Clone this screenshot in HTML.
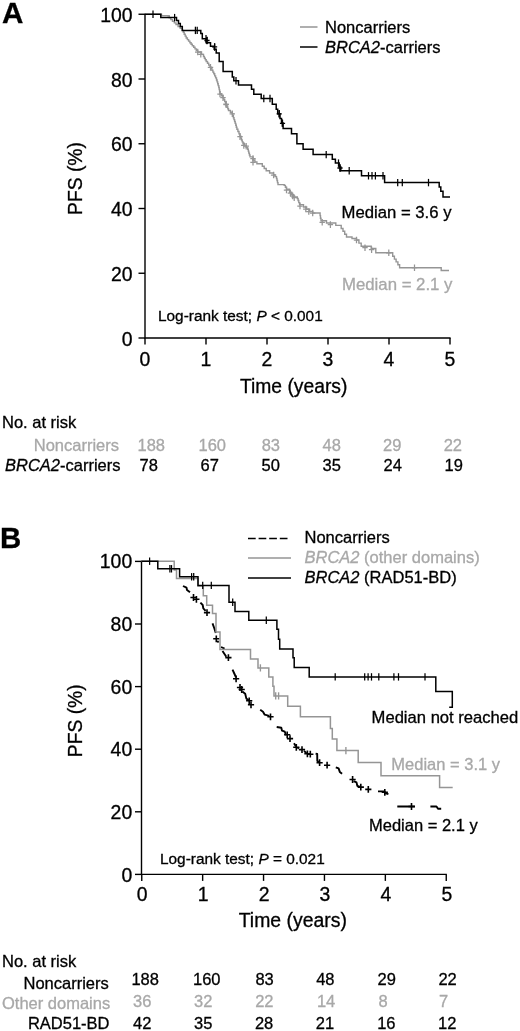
<!DOCTYPE html>
<html lang="en">
<head>
<meta charset="utf-8">
<title>PFS by BRCA2 carrier status</title>
<style>html,body{margin:0;padding:0;background:#fff}svg{display:block}text{stroke-width:.3px}.t,.t text{font-family:"Liberation Sans",sans-serif}</style>
</head>
<body>
<svg width="520" height="1031" viewBox="0 0 520 1031">
<rect width="520" height="1031" fill="#fff"/>
<g id="panelA">
<text x="1.9" y="22.8" class="t" font-size="29.6" font-weight="700" fill="#000" stroke="#000">A</text>
<g stroke="#000" stroke-width="1.4" fill="none" stroke-linecap="butt"><path d="M145.00 13.65 V338.00 H450.60"/><path d="M138.50 338.00 H145.00"/><path d="M138.50 273.25 H145.00"/><path d="M138.50 208.50 H145.00"/><path d="M138.50 143.75 H145.00"/><path d="M138.50 79.00 H145.00"/><path d="M138.50 14.25 H145.00"/><path d="M145.00 338.00 V344.50"/><path d="M206.00 338.00 V344.50"/><path d="M267.00 338.00 V344.50"/><path d="M328.00 338.00 V344.50"/><path d="M389.00 338.00 V344.50"/><path d="M450.00 338.00 V344.50"/></g>
<g class="t" font-size="19.4" fill="#000" stroke="#000" text-anchor="end"><text x="132.6" y="345.6">0</text><text x="132.6" y="280.9">20</text><text x="132.6" y="216.1">40</text><text x="132.6" y="151.3">60</text><text x="132.6" y="86.6">80</text><text x="132.6" y="21.9">100</text></g>
<g class="t" font-size="19.4" fill="#000" stroke="#000" text-anchor="middle"><text x="145.0" y="365.8">0</text><text x="206.0" y="365.8">1</text><text x="267.0" y="365.8">2</text><text x="328.0" y="365.8">3</text><text x="389.0" y="365.8">4</text><text x="450.0" y="365.8">5</text></g>
<path d="M145.0 14.2 L160.8 14.2 L161.5 14.2 L161.5 15.6 L167.7 15.6 L167.7 15.8 L169.2 15.8 L169.2 17.7 L170.8 17.7 L170.8 19.6 L172.5 19.6 L172.5 21.2 L174.3 21.2 L174.3 22.9 L176.0 22.9 L176.0 24.5 L178.1 24.5 L178.1 26.5 L180.2 26.5 L180.2 28.4 L182.3 28.4 L182.3 30.4 L183.3 30.4 L183.3 32.3 L184.2 32.3 L184.2 34.2 L185.2 34.2 L185.2 36.1 L186.2 36.1 L186.2 38.0 L187.4 38.0 L187.4 39.6 L188.6 39.6 L188.6 41.1 L189.9 41.1 L189.9 42.7 L191.1 42.7 L191.1 44.2 L192.3 44.2 L192.3 45.8 L193.7 45.8 L193.7 47.3 L195.0 47.3 L195.0 48.9 L196.3 48.9 L196.3 50.5 L197.7 50.5 L197.7 52.0 L201.5 52.0 L201.5 54.4 L203.5 54.4 L203.5 56.5 L204.4 56.5 L204.4 58.2 L205.3 58.2 L205.3 59.8 L206.2 59.8 L206.2 61.5 L207.5 61.5 L207.5 63.3 L208.7 63.3 L208.7 65.1 L210.0 65.1 L210.0 66.9 L210.9 66.9 L210.9 68.6 L211.9 68.6 L211.9 70.3 L212.9 70.3 L212.9 72.1 L213.8 72.1 L213.8 73.8 L214.7 73.8 L214.7 75.9 L215.6 75.9 L215.6 77.9 L216.5 77.9 L216.5 80.0 L217.1 80.0 L217.1 81.9 L217.7 81.9 L217.7 83.8 L218.2 83.8 L218.2 85.6 L218.8 85.6 L218.8 87.5 L219.2 87.5 L219.2 89.6 L219.6 89.6 L219.6 91.7 L220.0 91.7 L220.0 93.8 L221.5 93.8 L221.5 95.8 L223.0 95.8 L223.0 97.7 L223.9 97.7 L223.9 99.6 L224.7 99.6 L224.7 101.6 L225.6 101.6 L225.6 103.5 L226.3 103.5 L226.3 105.2 L227.1 105.2 L227.1 107.0 L227.8 107.0 L227.8 108.8 L228.5 108.8 L228.5 110.5 L230.4 110.5 L230.4 112.2 L232.3 112.2 L232.3 113.8 L232.9 113.8 L232.9 115.7 L233.4 115.7 L233.4 117.7 L234.0 117.7 L234.0 119.6 L234.6 119.6 L234.6 121.5 L235.2 121.5 L235.2 123.4 L235.8 123.4 L235.8 125.3 L236.3 125.3 L236.3 127.3 L236.9 127.3 L236.9 129.2 L237.9 129.2 L237.9 131.5 L239.0 131.5 L239.0 133.9 L240.0 133.9 L240.0 136.2 L240.8 136.2 L240.8 138.1 L241.5 138.1 L241.5 140.0 L242.2 140.0 L242.2 141.9 L243.0 141.9 L243.0 143.8 L244.6 143.8 L244.6 145.6 L246.1 145.6 L246.1 147.4 L247.7 147.4 L247.7 149.2 L248.3 149.2 L248.3 151.1 L248.8 151.1 L248.8 153.1 L249.4 153.1 L249.4 155.0 L250.0 155.0 L250.0 156.9 L253.0 156.9 L253.0 160.0 L254.9 160.0 L254.9 161.9 L256.9 161.9 L256.9 163.8 L262.3 163.8 L262.3 166.2 L264.2 166.2 L264.2 168.5 L266.2 168.5 L266.2 170.8 L269.6 170.8 L269.6 173.0 L273.5 173.0 L273.5 174.6 L275.0 174.6 L275.0 176.6 L276.5 176.6 L276.5 178.5 L277.0 178.5 L277.0 180.5 L277.5 180.5 L277.5 182.6 L278.0 182.6 L278.0 184.6 L284.2 184.6 L284.2 185.4 L285.4 185.4 L285.4 187.3 L286.5 187.3 L286.5 189.2 L289.6 189.2 L289.6 192.3 L291.6 192.3 L291.6 194.7 L293.5 194.7 L293.5 197.0 L297.3 197.0 L297.3 198.5 L298.1 198.5 L298.1 200.5 L298.8 200.5 L298.8 202.6 L299.6 202.6 L299.6 204.6 L303.5 204.6 L303.5 207.0 L306.6 207.0 L306.6 209.2 L309.6 209.2 L309.6 211.5 L312.7 211.5 L312.7 213.0 L319.6 213.0 L320.1 213.0 L320.1 215.6 L320.5 215.6 L320.5 218.2 L321.0 218.2 L321.0 220.8 L326.5 220.8 L326.5 223.0 L335.8 223.0 L335.8 225.4 L341.2 225.4 L341.2 228.5 L343.0 228.5 L343.0 231.3 L344.7 231.3 L344.7 234.2 L346.5 234.2 L346.5 237.0 L352.0 237.0 L352.0 238.5 L356.5 238.5 L356.5 240.0 L358.9 240.0 L358.9 243.1 L361.2 243.1 L361.2 246.2 L371.2 246.2 L371.2 248.5 L375.8 248.5 L375.8 252.8 L388.8 252.8 L392.7 252.8 L392.7 256.2 L394.4 256.2 L394.4 259.1 L396.1 259.1 L396.1 261.9 L397.9 261.9 L397.9 264.8 L399.6 264.8 L399.6 267.7 L441.2 267.7 L441.2 270.5 L449.0 270.5" fill="none" stroke="#959595" stroke-width="1.4" stroke-linejoin="miter"/>
<g stroke="#959595" stroke-width="1.25" fill="none"><path d="M197.7 48.7 V55.3 M195.0 52.0 H200.4"/><path d="M200.8 51.0 V57.6 M198.1 54.3 H203.5"/><path d="M210.5 64.1 V70.7 M207.8 67.4 H213.2"/><path d="M220.0 90.7 V97.3 M217.3 94.0 H222.7"/><path d="M223.0 94.4 V101.0 M220.3 97.7 H225.7"/><path d="M226.0 100.7 V107.3 M223.3 104.0 H228.7"/><path d="M232.3 110.5 V117.1 M229.6 113.8 H235.0"/><path d="M226.2 101.3 V107.9 M223.5 104.6 H228.9"/><path d="M240.0 133.3 V139.9 M237.3 136.6 H242.7"/><path d="M243.8 142.1 V148.7 M241.1 145.4 H246.5"/><path d="M246.2 142.9 V149.5 M243.5 146.2 H248.9"/><path d="M253.0 155.2 V161.8 M250.3 158.5 H255.7"/><path d="M253.0 159.0 V165.6 M250.3 162.3 H255.7"/><path d="M273.6 171.7 V178.3 M270.9 175.0 H276.3"/><path d="M286.5 186.7 V193.3 M283.8 190.0 H289.2"/><path d="M290.4 189.7 V196.3 M287.7 193.0 H293.1"/><path d="M292.7 192.7 V199.3 M290.0 196.0 H295.4"/><path d="M294.2 194.4 V201.0 M291.5 197.7 H296.9"/><path d="M300.0 202.7 V209.3 M297.3 206.0 H302.7"/><path d="M305.8 205.7 V212.3 M303.1 209.0 H308.5"/><path d="M308.8 208.2 V214.8 M306.1 211.5 H311.5"/><path d="M312.7 209.7 V216.3 M310.0 213.0 H315.4"/><path d="M322.2 219.0 V225.6 M319.5 222.3 H324.9"/><path d="M330.4 221.3 V227.9 M327.7 224.6 H333.1"/><path d="M356.5 236.7 V243.3 M353.8 240.0 H359.2"/><path d="M365.0 244.4 V251.0 M362.3 247.7 H367.7"/><path d="M371.6 246.4 V253.0 M368.9 249.7 H374.3"/><path d="M388.8 249.5 V256.1 M386.1 252.8 H391.5"/><path d="M414.5 264.4 V271.0 M411.8 267.7 H417.2"/></g>
<path d="M145.0 14.2 L160.8 14.2 L160.8 17.6 L176.5 17.6 L176.5 20.4 L178.5 20.4 L178.5 23.5 L180.3 23.5 L180.3 26.5 L182.3 26.5 L182.3 30.4 L200.8 30.4 L200.8 33.5 L202.3 33.5 L202.3 38.8 L206.2 38.8 L206.2 42.7 L210.5 42.7 L210.5 46.2 L214.2 46.2 L214.2 49.2 L216.2 49.2 L216.2 53.1 L219.2 53.1 L219.2 61.5 L223.1 61.5 L223.1 71.5 L232.3 71.5 L232.3 76.9 L233.8 76.9 L233.8 80.8 L238.5 80.8 L238.5 84.9 L251.5 84.9 L251.5 89.2 L253.8 89.2 L253.8 94.2 L261.2 94.2 L261.2 98.5 L272.3 98.5 L272.3 104.2 L276.2 104.2 L276.2 109.2 L277.7 109.2 L277.7 113.8 L280.0 113.8 L280.0 118.5 L281.5 118.5 L281.5 123.1 L283.1 123.1 L283.1 128.5 L291.5 128.5 L291.5 133.8 L296.9 133.8 L296.9 143.8 L303.1 143.8 L303.1 149.2 L313.1 149.2 L313.1 154.6 L332.3 154.6 L332.3 159.2 L335.4 159.2 L335.4 163.1 L339.2 163.1 L339.2 166.9 L340.8 166.9 L340.8 170.8 L361.5 170.8 L361.5 175.8 L384.6 175.8 L384.6 182.6 L439.2 182.6 L439.2 186.9 L440.8 186.9 L440.8 191.2 L443.0 191.2 L443.0 196.9 L450.0 196.9" fill="none" stroke="#000" stroke-width="1.5" stroke-linejoin="miter"/>
<g stroke="#000" stroke-width="1.25"><line x1="153.0" y1="10.5" x2="153.0" y2="17.9"/><line x1="174.6" y1="13.9" x2="174.6" y2="21.3"/><line x1="195.4" y1="26.7" x2="195.4" y2="34.1"/><line x1="197.2" y1="26.7" x2="197.2" y2="34.1"/><line x1="206.0" y1="35.1" x2="206.0" y2="42.5"/><line x1="207.0" y1="36.8" x2="207.0" y2="44.2"/><line x1="214.6" y1="43.2" x2="214.6" y2="50.6"/><line x1="236.0" y1="77.1" x2="236.0" y2="84.5"/><line x1="263.8" y1="94.8" x2="263.8" y2="102.2"/><line x1="270.0" y1="94.8" x2="270.0" y2="102.2"/><line x1="279.2" y1="110.1" x2="279.2" y2="117.5"/><line x1="282.3" y1="119.4" x2="282.3" y2="126.8"/><line x1="326.2" y1="150.9" x2="326.2" y2="158.3"/><line x1="338.5" y1="159.4" x2="338.5" y2="166.8"/><line x1="340.0" y1="164.3" x2="340.0" y2="171.7"/><line x1="349.2" y1="167.1" x2="349.2" y2="174.5"/><line x1="368.5" y1="172.1" x2="368.5" y2="179.5"/><line x1="372.0" y1="172.1" x2="372.0" y2="179.5"/><line x1="375.4" y1="172.1" x2="375.4" y2="179.5"/><line x1="383.0" y1="172.1" x2="383.0" y2="179.5"/><line x1="397.7" y1="178.9" x2="397.7" y2="186.3"/><line x1="402.3" y1="178.9" x2="402.3" y2="186.3"/><line x1="428.5" y1="178.9" x2="428.5" y2="186.3"/></g>
<g stroke="#000" stroke-width="1.3" fill="none"><path d="M207.0 37.0 V44.0 M204.4 40.5 H209.6"/><path d="M214.6 43.4 V50.4 M212.0 46.9 H217.2"/><path d="M279.2 110.3 V117.3 M276.6 113.8 H281.8"/><path d="M282.5 119.8 V126.8 M279.9 123.3 H285.1"/><path d="M340.0 164.5 V171.5 M337.4 168.0 H342.6"/></g>
<path d="M300 27 H317.5" stroke="#959595" stroke-width="1.5"/>
<path d="M300 47 H317.5" stroke="#000" stroke-width="1.5"/>
<g class="t" font-size="16.5" fill="#000" stroke="#000">
<text x="325" y="32.5">Noncarriers</text>
<text x="325" y="52.5"><tspan font-style="italic">BRCA2</tspan>-carriers</text>
<text x="451.5" y="217.7" text-anchor="end" font-size="16.7">Median = 3.6 y</text>
<text x="452.5" y="290" text-anchor="end" font-size="16.8" fill="#a8a8a8" stroke="#a8a8a8">Median = 2.1 y</text>
<text x="158" y="321.3" font-size="15.4">Log-rank test; <tspan font-style="italic">P</tspan> &lt; 0.001</text>
<text x="293.7" y="392.7" text-anchor="middle" font-size="19.3">Time (years)</text>
<text transform="translate(81.5 178.5) rotate(-90)" text-anchor="middle" font-size="19.3">PFS (%)</text>
<text x="2" y="427.7">No. at risk</text>
<text x="119" y="450.8" text-anchor="end" fill="#a8a8a8" stroke="#a8a8a8">Noncarriers</text>
<text x="120.5" y="471" text-anchor="end"><tspan font-style="italic">BRCA2</tspan>-carriers</text>
</g>
<g class="t" font-size="16.5" fill="#a8a8a8" stroke="#a8a8a8"><text x="137.5" y="450.8">188</text><text x="198.5" y="450.8">160</text><text x="261.7" y="450.8">83</text><text x="322.5" y="450.8">48</text><text x="383.0" y="450.8">29</text><text x="443.7" y="450.8">22</text></g>
<g class="t" font-size="16.5" fill="#000" stroke="#000"><text x="139.5" y="471.0">78</text><text x="200.5" y="471.0">67</text><text x="261.5" y="471.0">50</text><text x="322.5" y="471.0">35</text><text x="383.5" y="471.0">24</text><text x="444.5" y="471.0">19</text></g>
</g>
<g id="panelB">
<text x="0" y="547.6" class="t" font-size="29.4" font-weight="700" fill="#000" stroke="#000">B</text>
<g stroke="#000" stroke-width="1.4" fill="none" stroke-linecap="butt"><path d="M141.50 560.80 V874.40 H446.85"/><path d="M135.00 874.40 H141.50"/><path d="M135.00 811.80 H141.50"/><path d="M135.00 749.20 H141.50"/><path d="M135.00 686.60 H141.50"/><path d="M135.00 624.00 H141.50"/><path d="M135.00 561.40 H141.50"/><path d="M141.75 874.40 V880.90"/><path d="M202.65 874.40 V880.90"/><path d="M263.55 874.40 V880.90"/><path d="M324.45 874.40 V880.90"/><path d="M385.35 874.40 V880.90"/><path d="M446.25 874.40 V880.90"/></g>
<g class="t" font-size="19.4" fill="#000" stroke="#000" text-anchor="end"><text x="132.2" y="881.9">0</text><text x="132.2" y="819.1">20</text><text x="132.2" y="756.2">40</text><text x="132.2" y="693.5">60</text><text x="132.2" y="630.9">80</text><text x="132.2" y="568.3">100</text></g>
<g class="t" font-size="19.4" fill="#000" stroke="#000" text-anchor="middle"><text x="142.2" y="901.2">0</text><text x="203.2" y="901.2">1</text><text x="264.1" y="901.2">2</text><text x="324.9" y="901.2">3</text><text x="385.9" y="901.2">4</text><text x="446.8" y="901.2">5</text></g>
<path d="M183.0 586.0 L186.5 587.7 L187.0 590.0 L190.0 592.3 M200.4 602.7 L202.7 605.0 L203.3 608.4 L205.6 610.8 M212.5 623.4 L214.2 628.0 L215.8 633.0 M217.3 640.8 L218.6 642.5 M221.0 647.0 L224.6 648.6 M222.5 651.0 L226.3 656.7 M232.5 669.6 L234.3 673.5 L236.0 677.3 M242.3 691.5 L245.2 693.8 L246.3 698.4 L248.6 700.2 M260.2 709.8 L263.0 711.8 L264.7 714.7 L269.3 715.9 M276.7 727.0 L281.3 727.7 L282.0 730.6 L284.8 731.7 L286.0 735.2 M294.0 743.3 L296.0 746.5 M297.5 747.6 L299.0 748.5 M304.0 751.0 L306.5 753.0 M315.6 753.6 L317.2 754.0 L317.3 761.0 L319.6 762.2 M335.8 767.3 L338.6 768.4 L339.8 771.9 L342.1 773.7 M353.6 781.1 L356.5 782.4 L357.3 785.8 L360.2 787.0 M378.0 791.4 L384.4 791.4 L385.6 793.4 L388.4 794.0 M397.3 806.5 L415.0 806.5 M430.4 806.5 L436.5 806.5 L438.0 808.8 L441.2 808.8" fill="none" stroke="#000" stroke-width="1.9" stroke-linejoin="round"/>
<g stroke="#000" stroke-width="1.6" fill="none"><path d="M193.5 594.1 V600.9 M190.4 597.5 H196.6"/><path d="M196.4 595.9 V602.7 M193.3 599.3 H199.5"/><path d="M207.0 609.2 V616.0 M203.9 612.6 H210.1"/><path d="M216.3 635.4 V642.2 M213.2 638.8 H219.4"/><path d="M228.4 654.2 V661.0 M225.3 657.6 H231.5"/><path d="M236.1 675.4 V682.2 M233.0 678.8 H239.2"/><path d="M240.0 684.1 V690.9 M236.9 687.5 H243.1"/><path d="M241.7 686.1 V692.9 M238.6 689.5 H244.8"/><path d="M249.2 697.4 V704.2 M246.1 700.8 H252.3"/><path d="M251.0 701.4 V708.2 M247.9 704.8 H254.1"/><path d="M270.5 713.4 V720.2 M267.4 716.8 H273.6"/><path d="M287.2 731.4 V738.2 M284.1 734.8 H290.3"/><path d="M290.0 735.2 V742.0 M286.9 738.6 H293.1"/><path d="M296.3 743.9 V750.7 M293.2 747.3 H299.4"/><path d="M302.0 746.2 V753.0 M298.9 749.6 H305.1"/><path d="M307.4 750.4 V757.2 M304.3 753.8 H310.5"/><path d="M310.3 750.8 V757.6 M307.2 754.2 H313.4"/><path d="M319.6 759.3 V766.1 M316.5 762.7 H322.7"/><path d="M327.1 761.8 V768.6 M324.0 765.2 H330.2"/><path d="M352.6 776.1 V782.9 M349.5 779.5 H355.7"/><path d="M360.8 783.7 V790.5 M357.7 787.1 H363.9"/><path d="M368.3 786.0 V792.8 M365.2 789.4 H371.4"/><path d="M384.8 788.9 V795.7 M381.7 792.3 H387.9"/><path d="M411.5 803.1 V809.9 M408.4 806.5 H414.6"/></g>
<path d="M141.5 561.2 L174.2 561.2 L174.2 570.0 L176.5 570.0 L176.5 578.5 L198.0 578.5 L198.0 586.0 L203.3 586.0 L203.3 595.8 L206.7 595.8 L206.7 605.2 L212.5 605.2 L212.5 613.6 L216.0 613.6 L216.0 632.0 L220.0 632.0 L220.0 649.4 L250.5 649.4 L250.5 659.0 L258.0 659.0 L258.0 667.9 L268.8 667.9 L268.8 677.1 L272.9 677.1 L272.9 686.3 L274.0 686.3 L274.0 695.9 L287.7 695.9 L287.7 706.3 L300.4 706.3 L300.4 716.7 L330.4 716.7 L330.4 728.5 L332.3 728.5 L332.3 739.0 L336.9 739.0 L336.9 750.6 L358.2 750.6 L358.2 762.5 L381.0 762.5 L381.0 775.7 L439.6 775.7 L439.6 787.4 L452.7 787.4" fill="none" stroke="#959595" stroke-width="1.5" stroke-linejoin="miter"/>
<g stroke="#959595" stroke-width="1.35"><line x1="260.4" y1="664.3" x2="260.4" y2="671.5"/><line x1="275.7" y1="692.3" x2="275.7" y2="699.5"/><line x1="278.6" y1="692.3" x2="278.6" y2="699.5"/><line x1="345.9" y1="747.0" x2="345.9" y2="754.2"/></g>
<path d="M141.5 561.2 L157.8 561.2 L157.8 568.8 L179.6 568.8 L179.6 576.8 L198.0 576.8 L198.0 585.4 L229.0 585.4 L229.0 602.2 L235.0 602.2 L235.0 611.5 L248.8 611.5 L248.8 620.3 L276.9 620.3 L276.9 629.2 L278.5 629.2 L278.5 639.2 L279.7 639.2 L279.7 648.9 L293.0 648.9 L293.0 657.7 L294.2 657.7 L294.2 667.4 L309.2 667.4 L309.2 676.9 L435.8 676.9 L435.8 691.5 L452.3 691.5 L452.3 707.2 L449.2 707.2" fill="none" stroke="#000" stroke-width="1.5" stroke-linejoin="miter"/>
<g stroke="#000" stroke-width="1.25"><line x1="149.6" y1="557.5" x2="149.6" y2="564.9"/><line x1="169.9" y1="565.1" x2="169.9" y2="572.5"/><line x1="171.5" y1="565.1" x2="171.5" y2="572.5"/><line x1="191.6" y1="573.1" x2="191.6" y2="580.5"/><line x1="193.7" y1="573.1" x2="193.7" y2="580.5"/><line x1="202.7" y1="581.7" x2="202.7" y2="589.1"/><line x1="211.3" y1="581.7" x2="211.3" y2="589.1"/><line x1="232.7" y1="598.5" x2="232.7" y2="605.9"/><line x1="266.3" y1="616.6" x2="266.3" y2="624.0"/><line x1="335.2" y1="673.2" x2="335.2" y2="680.6"/><line x1="364.7" y1="673.2" x2="364.7" y2="680.6"/><line x1="368.1" y1="673.2" x2="368.1" y2="680.6"/><line x1="371.5" y1="673.2" x2="371.5" y2="680.6"/><line x1="378.8" y1="673.2" x2="378.8" y2="680.6"/><line x1="393.9" y1="673.2" x2="393.9" y2="680.6"/><line x1="398.5" y1="673.2" x2="398.5" y2="680.6"/><line x1="425.0" y1="673.2" x2="425.0" y2="680.6"/></g>
<path d="M248 538.4 H287.5" stroke="#000" stroke-width="1.5" stroke-dasharray="7.7 2.9"/>
<path d="M248 557.9 H291" stroke="#959595" stroke-width="1.5"/>
<path d="M248 577.9 H291" stroke="#000" stroke-width="1.5"/>
<g class="t" font-size="16.5" fill="#000" stroke="#000">
<text x="304.5" y="542.8">Noncarriers</text>
<text x="304.5" y="562.8" fill="#a8a8a8" stroke="#a8a8a8"><tspan font-style="italic">BRCA2</tspan> (other domains)</text>
<text x="304.5" y="582.8"><tspan font-style="italic">BRCA2</tspan> (RAD51-BD)</text>
<text x="371.6" y="722.8" font-size="16.6">Median not reached</text>
<text x="391.3" y="769.5" fill="#a8a8a8" stroke="#a8a8a8">Median = 3.1 y</text>
<text x="369" y="831.4">Median = 2.1 y</text>
<text x="160" y="864" font-size="15.4">Log-rank test; <tspan font-style="italic">P</tspan> = 0.021</text>
<text x="292.8" y="927.2" text-anchor="middle" font-size="19.4">Time (years)</text>
<text transform="translate(81.5 720.8) rotate(-90)" text-anchor="middle" font-size="19.3">PFS (%)</text>
<text x="2" y="966.8">No. at risk</text>
<text x="108.8" y="988.6" text-anchor="end">Noncarriers</text>
<text x="110.2" y="1008.6" text-anchor="end" fill="#a8a8a8" stroke="#a8a8a8">Other domains</text>
<text x="109.5" y="1028.5" text-anchor="end">RAD51-BD</text>
</g>
<g class="t" font-size="16.5" fill="#000" stroke="#000"><text x="131.4" y="985.3">188</text><text x="193.0" y="985.3">160</text><text x="255.4" y="985.3">83</text><text x="316.2" y="985.3">48</text><text x="377.6" y="985.3">29</text><text x="438.4" y="985.3">22</text></g>
<g class="t" font-size="16.5" fill="#a8a8a8" stroke="#a8a8a8"><text x="133.1" y="1007.0">36</text><text x="194.0" y="1007.0">32</text><text x="255.2" y="1007.0">22</text><text x="316.9" y="1007.0">14</text><text x="378.5" y="1007.0">8</text><text x="438.9" y="1007.0">7</text></g>
<g class="t" font-size="16.5" fill="#000" stroke="#000"><text x="133.1" y="1028.5">42</text><text x="194.0" y="1028.5">35</text><text x="254.9" y="1028.5">28</text><text x="315.8" y="1028.5">21</text><text x="377.2" y="1028.5">16</text><text x="438.1" y="1028.5">12</text></g>
</g>
</svg>
</body>
</html>
